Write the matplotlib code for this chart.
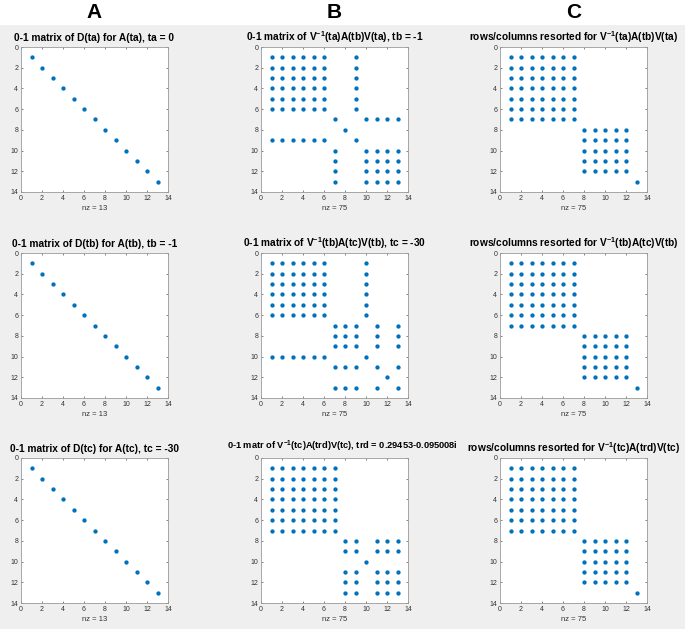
import numpy as np
import matplotlib
matplotlib.use("Agg")
import matplotlib.pyplot as plt

plt.rcParams['font.family'] = ['Liberation Sans', 'DejaVu Sans']
plt.rcParams['mathtext.fontset'] = 'custom'
plt.rcParams['mathtext.rm'] = 'Liberation Sans:bold'
plt.rcParams['mathtext.it'] = 'Liberation Sans:bold'
plt.rcParams['mathtext.bf'] = 'Liberation Sans:bold'

# --- 0-1 patterns, one string per matrix row (rows 1..13) ---
diag13 = ["".join("1" if c == r else "0" for c in range(13)) for r in range(13)]

b1 = ["1111110010000"] * 6 + ["0000001001111", "0000000100000", "1111110010000"] + ["0000001001111"] * 4
b2 = (["1111110001000"] * 6 + ["0000001110101"] * 3 +
      ["1111110001000", "0000001110101", "0000000000010", "0000001110101"])
b3 = ["1111111000000"] * 7 + ["0000000110111"] * 2 + ["0000000001000"] + ["0000000110111"] * 3
c_sorted = ["1111111000000"] * 7 + ["0000000111110"] * 5 + ["0000000000001"]

patterns = [
    [diag13, b1, c_sorted],
    [diag13, b2, c_sorted],
    [diag13, b3, c_sorted],
]

V = r"V$^{-1}$"
titles = [
    ["0-1 matrix of D(ta) for A(ta), ta = 0",
     "0-1 matrix of " + V + "(ta)A(tb)V(ta), tb = -1",
     "rows/columns resorted for " + V + "(ta)A(tb)V(ta)"],
    ["0-1 matrix of D(tb) for A(tb), tb = -1",
     "0-1 matrix of " + V + "(tb)A(tc)V(tb), tc = -30",
     "rows/columns resorted for " + V + "(tb)A(tc)V(tb)"],
    ["0-1 matrix of D(tc) for A(tc), tc = -30",
     "0-1 matr of " + V + "(tc)A(trd)V(tc), trd = 0.29453-0.095008i",
     "rows/columns resorted for " + V + "(tc)A(trd)V(tc)"],
]
col_letters = ["A", "B", "C"]

W, H = 685, 629
fig = plt.figure(figsize=(W / 100, H / 100), dpi=100)
fig.patch.set_facecolor("#efefef")
# white strip for column letters
fig.patches.append(plt.Rectangle((0, 1 - 25 / H), 1, 25 / H, transform=fig.transFigure,
                                 facecolor="white", edgecolor="none", zorder=0))

lefts = [21, 261, 500]
tops = [47, 253, 458]
aw, ah = 147, 145

for j, letter in enumerate(col_letters):
    fig.text((lefts[j] + aw / 2) / W, 1 - 13 / H, letter, ha="center", va="center",
             fontsize=15, fontweight="bold")

for i in range(3):
    for j in range(3):
        M = np.array([[int(ch) for ch in row] for row in patterns[i][j]])
        rows, cols = np.nonzero(M)
        ax = fig.add_axes([lefts[j] / W, 1 - (tops[i] + ah) / H, aw / W, ah / H])
        ax.plot(cols + 1, rows + 1, "o", color="#0072BD", markersize=3.1, markeredgewidth=0)
        ax.set_xlim(0, 14)
        ax.set_ylim(14, 0)
        ax.set_xticks(range(0, 15, 2))
        ax.set_yticks(range(0, 15, 2))
        ax.tick_params(direction="in", length=1.5, width=0.5, labelsize=5,
                       colors="#555555", labelcolor="#333333", top=True, right=True, pad=2)
        for s in ax.spines.values():
            s.set_color("#9a9a9a")
            s.set_linewidth(0.6)
        ax.set_xlabel(f"nz = {len(rows)}", fontsize=5.5, color="#333333", labelpad=2)
        if i == 2 and j == 1:
            # long title sits a little right of the axes centre, as in the original
            ax.set_title(titles[i][j], fontsize=6.7, fontweight="bold", pad=6, x=0.555)
        else:
            ax.set_title(titles[i][j], fontsize=7.3, fontweight="bold", pad=4)

fig.savefig("out.png", dpi=100, facecolor=fig.get_facecolor())
